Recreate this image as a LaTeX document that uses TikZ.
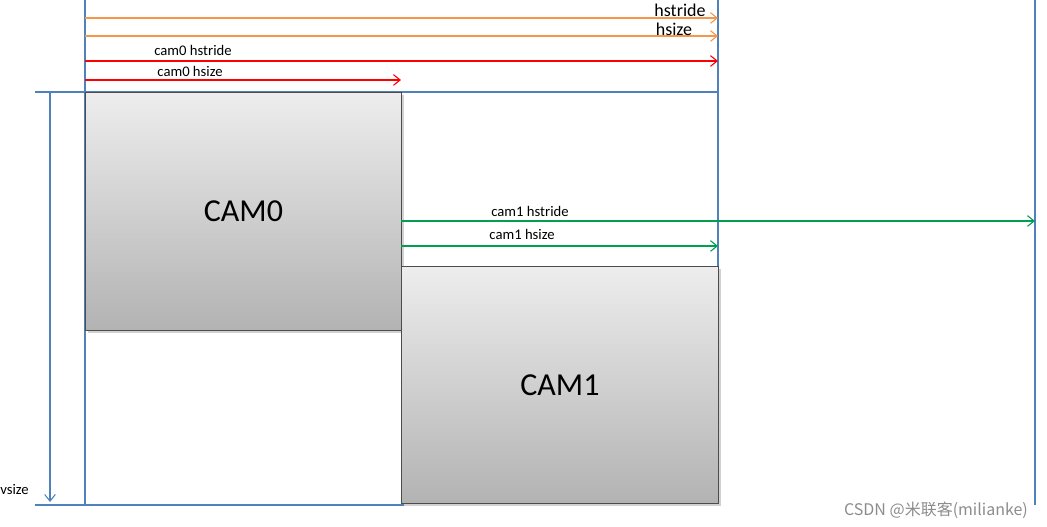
\documentclass[tikz,border=0pt]{standalone}
\usepackage{fontspec}
\setmainfont{Carlito}
\newfontfamily\cjk{Noto Sans CJK SC}
\usetikzlibrary{arrows.meta}
\definecolor{lblue}{HTML}{4F81BD}
\definecolor{lorange}{HTML}{F79646}
\definecolor{lgreen}{HTML}{00A050}
\begin{document}
\begin{tikzpicture}[x=0.75pt,y=-0.75pt,
  bl/.style={lblue,line width=0.8pt},
  arr/.style={-{Straight Barb[length=5pt,width=8pt]},line width=0.8pt},
  lab/.style={font=\fontsize{11}{12}\selectfont,inner sep=0pt},
  blab/.style={font=\fontsize{13.5}{14}\selectfont,inner sep=0pt},
  cam/.style={draw=black!70,line width=0.6pt,top color=black!7,bottom color=black!30,
     font=\fontsize{24}{26}\selectfont}]
\useasboundingbox (0,0) rectangle (1047,527);
% grid lines
\coordinate (t1) at (85,0); \coordinate (b1) at (85,505);
\coordinate (t2) at (718,0); \coordinate (b2) at (718,266);
\coordinate (t3) at (1035,0); \coordinate (b3) at (1035,505);
\draw[bl] (t1)--(b1); \draw[bl] (t2)--(b2); \draw[bl] (t3)--(b3);
\coordinate (h1) at (35,92); \coordinate (h2) at (718,92);
\draw[bl] (h1)--(h2);
\coordinate (g1) at (35,505); \coordinate (g2) at (718,505);
\draw[bl] (g1)--(g2);
\coordinate (v1) at (50,92); \coordinate (v2) at (50,502);
\draw[bl,arr] (v1)--(v2);
\node[lab,anchor=west] (vs) at (0,490) {vsize};
% boxes
\fill[black!18] (88,95) rectangle (404,333);
\node[cam,minimum width=316*0.75pt,minimum height=238*0.75pt,anchor=north west] (c0) at (85,92) {CAM0};
\fill[black!18] (404,269) rectangle (721,506);
\node[cam,minimum width=317*0.75pt,minimum height=237*0.75pt,anchor=north west] (c1) at (401,266) {CAM1};
% orange
\coordinate (o1a) at (85,18); \coordinate (o1b) at (718,18);
\draw[lorange,arr] (o1a)--(o1b);
\node[blab] (l1) at (680,10) {hstride};
\coordinate (o2a) at (85,36); \coordinate (o2b) at (718,36);
\draw[lorange,arr] (o2a)--(o2b);
\node[blab] (l2) at (674,29) {hsize};
% red
\coordinate (r1a) at (85,61); \coordinate (r1b) at (718,61);
\draw[red,arr] (r1a)--(r1b);
\node[lab] (l3) at (193,50) {cam0 hstride};
\coordinate (r2a) at (85,80); \coordinate (r2b) at (401,80);
\draw[red,arr] (r2a)--(r2b);
\node[lab] (l4) at (190,71) {cam0 hsize};
% green
\coordinate (g1a) at (401,221); \coordinate (g1b) at (1035,221);
\draw[lgreen,arr] (g1a)--(g1b);
\node[lab] (l5) at (530,211) {cam1 hstride};
\coordinate (g2a) at (401,246); \coordinate (g2b) at (718,246);
\draw[lgreen,arr] (g2a)--(g2b);
\node[lab] (l6) at (522,234) {cam1 hsize};
\node[lab,text=black!45,font=\fontsize{12}{13}\selectfont\cjk] (wm) at (936,510) {CSDN @米联客(milianke)};
\end{tikzpicture}
\end{document}
